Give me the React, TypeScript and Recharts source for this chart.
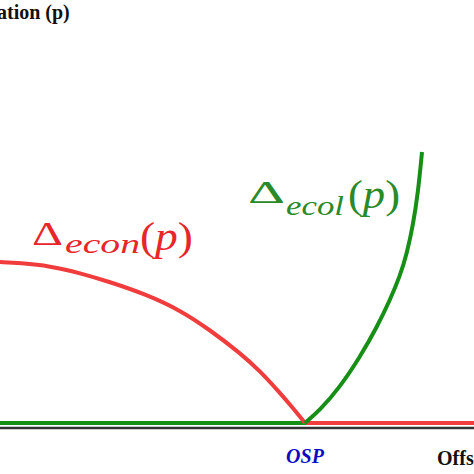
import { LineChart, Line, XAxis, YAxis } from "recharts";

// x in "p" units (OSP at 3.05), y in "delta" units
const OSP = 3.05;
const econCurve = [
  { p: 0, v: 1.61 },
  { p: 0.2, v: 1.6 },
  { p: 0.5, v: 1.57 },
  { p: 0.8, v: 1.5 },
  { p: 1.1, v: 1.41 },
  { p: 1.45, v: 1.29 },
  { p: 1.8, v: 1.13 },
  { p: 2.1, v: 0.93 },
  { p: 2.4, v: 0.7 },
  { p: 2.6, v: 0.52 },
  { p: 2.8, v: 0.3 },
  { p: 2.92, v: 0.16 },
  { p: OSP, v: 0 }
];
const econFlat = [
  { p: OSP, v: 0 },
  { p: 4.74, v: 0 }
];
const ecolFlat = [
  { p: 0, v: 0 },
  { p: OSP, v: 0 }
];
const ecolCurve = [
  { p: OSP, v: 0 },
  { p: 3.2, v: 0.13 },
  { p: 3.4, v: 0.36 },
  { p: 3.6, v: 0.66 },
  { p: 3.77, v: 0.96 },
  { p: 3.9, v: 1.23 },
  { p: 4.0, v: 1.47 },
  { p: 4.07, v: 1.7 },
  { p: 4.13, v: 1.98 },
  { p: 4.18, v: 2.3 },
  { p: 4.22, v: 2.71 }
];
const xTicks = [OSP];
const xTickLabels = ["OSP"];

const RED = "#f03c3c";
const GREEN = "#178f17";
const SERIF = "'Liberation Serif', 'Times New Roman', serif";

const OspTick = ({ x, y, index }: any) => (
  <text x={x} y={y + 27} textAnchor="middle" fill="#0b0bc4" style={{ fontFamily: SERIF, fontWeight: "bold", fontStyle: "italic", fontSize: 20 }}>
    {xTickLabels[index]}
  </text>
);

export default function App() {
  return (
    <div style={{ position: "absolute", left: 0, top: 0, background: "#fff" }}>
      <LineChart width={474} height={474} margin={{ top: 0, right: 0, bottom: 0, left: 0 }}>
        <XAxis
          type="number"
          dataKey="p"
          domain={[0, 4.74]}
          ticks={xTicks}
          tickLine={false}
          height={46}
          axisLine={{ stroke: "#333", strokeWidth: 2.5 }}
          tick={<OspTick />}
          allowDataOverflow
        />
        <YAxis type="number" dataKey="v" domain={[-0.05, 4.23]} hide allowDataOverflow />
        <Line data={ecolFlat} dataKey="v" type="linear" stroke={GREEN} strokeWidth={4} dot={false} activeDot={false} isAnimationActive={false} />
        <Line data={econFlat} dataKey="v" type="linear" stroke={RED} strokeWidth={4} dot={false} activeDot={false} isAnimationActive={false} />
        <Line data={econCurve} dataKey="v" type="basis" stroke={RED} strokeWidth={4} dot={false} activeDot={false} isAnimationActive={false} />
        <Line data={ecolCurve} dataKey="v" type="basis" stroke={GREEN} strokeWidth={4} dot={false} activeDot={false} isAnimationActive={false} />
        <text x={-3} y={19} fill="#111" style={{ fontFamily: SERIF, fontWeight: "bold", fontSize: 20 }}>ation (p)</text>
        <text x={437} y={465} fill="#111" style={{ fontFamily: SERIF, fontWeight: "bold", fontSize: 20 }}>Offset</text>

        <g fill="#e8262a" style={{ fontFamily: SERIF }}>
          <text x={32} y={245} textLength={31} lengthAdjust="spacingAndGlyphs" style={{ fontSize: 33 }}>Δ</text>
          <text x={65} y={253} textLength={75} lengthAdjust="spacingAndGlyphs" style={{ fontSize: 28, fontStyle: "italic" }}>econ</text>
          <text x={140} y={250} textLength={53} lengthAdjust="spacingAndGlyphs" style={{ fontSize: 40 }}>
            (<tspan style={{ fontStyle: "italic" }}>p</tspan>)
          </text>
        </g>
        <g fill="#2a8a2a" style={{ fontFamily: SERIF }}>
          <text x={248} y={203} textLength={37} lengthAdjust="spacingAndGlyphs" style={{ fontSize: 31 }}>Δ</text>
          <text x={286} y={215} textLength={58} lengthAdjust="spacingAndGlyphs" style={{ fontSize: 28, fontStyle: "italic" }}>ecol</text>
          <text x={348} y={208} textLength={52} lengthAdjust="spacingAndGlyphs" style={{ fontSize: 39 }}>
            (<tspan style={{ fontStyle: "italic" }}>p</tspan>)
          </text>
        </g>
      </LineChart>
    </div>
  );
}
